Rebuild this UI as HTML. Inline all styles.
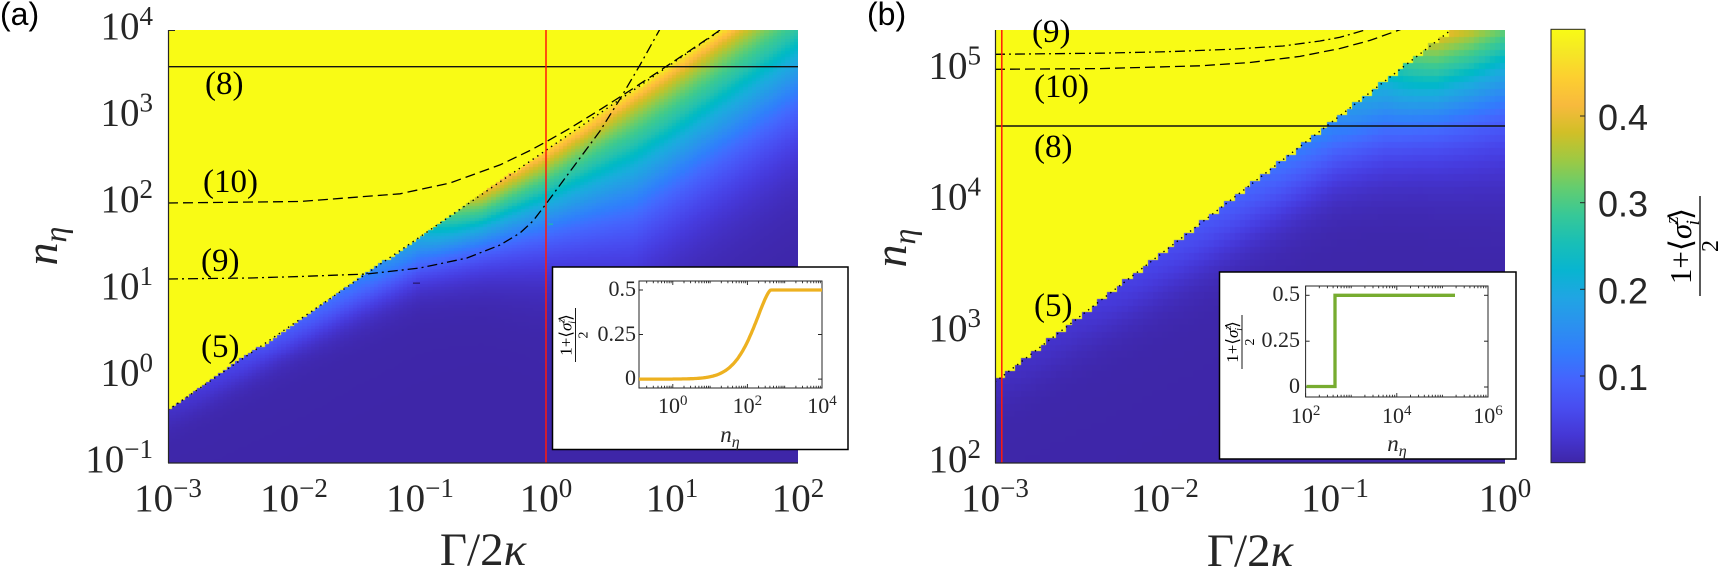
<!DOCTYPE html>
<html><head><meta charset="utf-8">
<style>
html,body{margin:0;padding:0;background:#fff;}
#wrap{position:relative;width:1725px;height:577px;overflow:hidden;background:#fff;}
svg,canvas{position:absolute;left:0;top:0;}
#ca{left:168px;top:30px;}
#cb{left:995px;top:30px;}
text{font-family:"Liberation Serif","DejaVu Serif",serif;fill:#262626;}
.sans{font-family:"Liberation Sans","DejaVu Sans",sans-serif;}
.k{fill:#000;}
</style></head><body><div id="wrap">
<svg id="bg" width="1725" height="577">
<rect x="168" y="30" width="630" height="433" fill="#f9fb15"/>
<polygon points="168,410 721,30 798,30 798,463 168,463" fill="#3e26a8"/>
<rect x="995" y="30" width="510" height="433" fill="#f9fb15"/>
<polygon points="995,382 1451,30 1505,30 1505,463 995,463" fill="#3e26a8"/>
</svg>
<canvas id="ca" width="630" height="433"></canvas>
<canvas id="cb" width="510" height="433"></canvas>
<svg id="fg" width="1725" height="577">
<defs>
<clipPath id="clA"><rect x="168" y="30" width="630" height="433"/></clipPath>
<clipPath id="clB"><rect x="995" y="30" width="510" height="433"/></clipPath>
<linearGradient id="par" x1="0" y1="1" x2="0" y2="0">
<stop offset="0" stop-color="#3e26a8"/><stop offset="0.0635" stop-color="#4537d5"/>
<stop offset="0.127" stop-color="#484df0"/><stop offset="0.1905" stop-color="#4563fd"/>
<stop offset="0.254" stop-color="#327cfc"/><stop offset="0.3175" stop-color="#2b91ef"/>
<stop offset="0.381" stop-color="#20a5e3"/><stop offset="0.4444" stop-color="#08b5d0"/>
<stop offset="0.5079" stop-color="#19bfb6"/><stop offset="0.5714" stop-color="#37c897"/>
<stop offset="0.6349" stop-color="#64cd6f"/><stop offset="0.6984" stop-color="#9dc943"/>
<stop offset="0.7619" stop-color="#d1bf27"/><stop offset="0.8254" stop-color="#f8ba3d"/>
<stop offset="0.8889" stop-color="#fccf30"/><stop offset="0.9524" stop-color="#f5e924"/>
<stop offset="1" stop-color="#f9fb15"/>
</linearGradient>
</defs>

<!-- Panel labels -->
<text class="sans" x="0" y="25" font-size="32" style="fill:#000">(a)</text>
<text class="sans" x="867" y="25" font-size="32" style="fill:#000">(b)</text>

<!-- ===== Panel (a) lines ===== -->
<g clip-path="url(#clA)" fill="none">
<line x1="168" y1="66.7" x2="798" y2="66.7" stroke="#111" stroke-width="1.4"/>
<path d="M168,410 L721,30" stroke="#000" stroke-width="1.4" stroke-dasharray="1.4 4.2"/>
<path d="M168,203 L300,201.5 L400,193.8 L450,183 L500,164.9 L530,150.5 L546,141.9 L570,128.2 L600,109.7 L630,90.5 L660,70.6 L690,50.5 L715,33.6 L722,28.5" stroke="#000" stroke-width="1.3" stroke-dasharray="10 5"/>
<path d="M168,279 L250,278 L300,276.5 L367,274 L420,268 L467,258 L500,245 L520,233 L533,221 L546,204 L560,185 L580,158 L600,131 L620,99 L640,65 L660,29 L662,25" stroke="#000" stroke-width="1.3" stroke-dasharray="10 4 2 4"/>
<line x1="546" y1="30" x2="546" y2="463" stroke="#ff1a0a" stroke-width="1.5"/>
<rect x="548" y="223.5" width="5" height="1.5" fill="#20b0b8"/>
<rect x="413" y="282.5" width="7" height="1.3" fill="#2a1a70"/>
</g>
<line x1="168.5" y1="30" x2="168.5" y2="463" stroke="#262626" stroke-width="1.2"/>
<line x1="168" y1="463" x2="798" y2="463" stroke="#262626" stroke-width="1.2"/>
<line x1="168" y1="30.5" x2="175" y2="30.5" stroke="#262626" stroke-width="1"/>

<text class="k" x="205" y="94" font-size="33">(8)</text>
<text class="k" x="203" y="192" font-size="33">(10)</text>
<text class="k" x="201" y="271" font-size="33">(9)</text>
<text class="k" x="201" y="357" font-size="33">(5)</text>

<!-- (a) y tick labels -->
<g font-size="39" text-anchor="end">
<text x="153" y="39">10<tspan font-size="27" dy="-14">4</tspan></text>
<text x="153" y="125.6">10<tspan font-size="27" dy="-14">3</tspan></text>
<text x="153" y="212.2">10<tspan font-size="27" dy="-14">2</tspan></text>
<text x="153" y="298.8">10<tspan font-size="27" dy="-14">1</tspan></text>
<text x="153" y="385.4">10<tspan font-size="27" dy="-14">0</tspan></text>
<text x="153" y="472">10<tspan font-size="27" dy="-14">−1</tspan></text>
</g>
<!-- (a) x tick labels -->
<g font-size="39" text-anchor="middle">
<text x="168" y="511">10<tspan font-size="27" dy="-14">−3</tspan></text>
<text x="294" y="511">10<tspan font-size="27" dy="-14">−2</tspan></text>
<text x="420" y="511">10<tspan font-size="27" dy="-14">−1</tspan></text>
<text x="546" y="511">10<tspan font-size="27" dy="-14">0</tspan></text>
<text x="672" y="511">10<tspan font-size="27" dy="-14">1</tspan></text>
<text x="798" y="511">10<tspan font-size="27" dy="-14">2</tspan></text>
</g>
<text x="483" y="565" font-size="47" text-anchor="middle">Γ/2<tspan font-style="italic">κ</tspan></text>
<g transform="translate(57,246) rotate(-90)"><text x="0" y="0" font-size="46" text-anchor="middle" font-style="italic">n<tspan font-size="32" dy="9">η</tspan></text></g>

<!-- (a) inset -->
<rect x="552.5" y="267" width="295.5" height="182.5" fill="#fff" stroke="#000" stroke-width="1.5"/>
<rect x="639" y="281" width="183" height="107" fill="none" stroke="#262626" stroke-width="1"/>
<g stroke="#262626" stroke-width="1">
<line x1="639" y1="379.1" x2="643" y2="379.1"/><line x1="639" y1="334.5" x2="643" y2="334.5"/><line x1="639" y1="290" x2="643" y2="290"/>
<line x1="818" y1="379.1" x2="822" y2="379.1"/><line x1="818" y1="334.5" x2="822" y2="334.5"/><line x1="818" y1="290" x2="822" y2="290"/>
</g>
<path id="tkA" fill="none" stroke="#262626" stroke-width="0.9" d=""/>
<polyline id="curA" fill="none" stroke="#edb120" stroke-width="3.3" stroke-linejoin="round" points="639,379.1 672.8,379 691.4,378.7 710,376.7 719.4,373.8 728.7,368.1 738,358 747.4,341.8 752,331.5 756.7,319.9 761.4,307.9 766,297 768.9,291.8 770.9,290 822,290"/>
<g font-size="22" text-anchor="end">
<text x="636" y="296">0.5</text>
<text x="636" y="341">0.25</text>
<text x="636" y="385">0</text>
</g>
<g font-size="22" text-anchor="middle">
<text x="672.8" y="413">10<tspan font-size="15" dy="-8">0</tspan></text>
<text x="747.4" y="413">10<tspan font-size="15" dy="-8">2</tspan></text>
<text x="822" y="413">10<tspan font-size="15" dy="-8">4</tspan></text>
</g>
<text x="730" y="442" font-size="23" text-anchor="middle" font-style="italic">n<tspan font-size="16" dy="5">η</tspan></text>
<g transform="translate(575.5,335) rotate(-90)">
<line x1="-27" y1="0" x2="27" y2="0" stroke="#000" stroke-width="0.9"/>
<text x="0" y="-4" font-size="17" text-anchor="middle" style="fill:#000">1+⟨<tspan font-style="italic">σ</tspan><tspan font-size="10" dy="-7" font-style="italic">z</tspan><tspan font-size="10" dx="-5" dy="11" font-style="italic">i</tspan><tspan dy="-4">⟩</tspan></text>
<text x="0" y="12" font-size="14" text-anchor="middle" style="fill:#000">2</text>
</g>

<!-- ===== Panel (b) lines ===== -->
<g clip-path="url(#clB)" fill="none">
<line x1="995" y1="126" x2="1505" y2="126" stroke="#111" stroke-width="1.4"/>
<path d="M995,382 L1451,30" stroke="#000" stroke-width="1.4" stroke-dasharray="1.4 4.2"/>
<path d="M995,69.3 L1100,68.6 L1200,65.8 L1250,62.5 L1300,56.4 L1340,48.5 L1370,40.4 L1402,29" stroke="#000" stroke-width="1.3" stroke-dasharray="10 5"/>
<path d="M995,54.3 L1100,53.2 L1168,51.7 L1230,49.3 L1283,46 L1320,41 L1340,37.3 L1372,28" stroke="#000" stroke-width="1.3" stroke-dasharray="10 4 2 4"/>
<line x1="1001.8" y1="30" x2="1001.8" y2="463" stroke="#ff1a0a" stroke-width="1.5"/>
</g>
<line x1="995.5" y1="30" x2="995.5" y2="463" stroke="#262626" stroke-width="1.2"/>
<line x1="995" y1="463" x2="1505" y2="463" stroke="#262626" stroke-width="1.2"/>

<text class="k" x="1032" y="42" font-size="33">(9)</text>
<text class="k" x="1034" y="97" font-size="33">(10)</text>
<text class="k" x="1034" y="157" font-size="33">(8)</text>
<text class="k" x="1034" y="316" font-size="33">(5)</text>

<g font-size="39" text-anchor="end">
<text x="981" y="78.5">10<tspan font-size="27" dy="-14">5</tspan></text>
<text x="981" y="209.6">10<tspan font-size="27" dy="-14">4</tspan></text>
<text x="981" y="340.8">10<tspan font-size="27" dy="-14">3</tspan></text>
<text x="981" y="472">10<tspan font-size="27" dy="-14">2</tspan></text>
</g>
<g font-size="39" text-anchor="middle">
<text x="995" y="511">10<tspan font-size="27" dy="-14">−3</tspan></text>
<text x="1165" y="511">10<tspan font-size="27" dy="-14">−2</tspan></text>
<text x="1335" y="511">10<tspan font-size="27" dy="-14">−1</tspan></text>
<text x="1505" y="511">10<tspan font-size="27" dy="-14">0</tspan></text>
</g>
<text x="1250" y="566" font-size="47" text-anchor="middle">Γ/2<tspan font-style="italic">κ</tspan></text>
<g transform="translate(906,248) rotate(-90)"><text x="0" y="0" font-size="46" text-anchor="middle" font-style="italic">n<tspan font-size="32" dy="9">η</tspan></text></g>

<!-- (b) inset -->
<rect x="1219.5" y="272" width="296.5" height="187" fill="#fff" stroke="#000" stroke-width="1.5"/>
<rect x="1305.6" y="286" width="182.4" height="111" fill="none" stroke="#262626" stroke-width="1"/>
<g stroke="#262626" stroke-width="1">
<line x1="1305.6" y1="387" x2="1309.6" y2="387"/><line x1="1305.6" y1="341.2" x2="1309.6" y2="341.2"/><line x1="1305.6" y1="295.3" x2="1309.6" y2="295.3"/>
<line x1="1484" y1="387" x2="1488" y2="387"/><line x1="1484" y1="341.2" x2="1488" y2="341.2"/><line x1="1484" y1="295.3" x2="1488" y2="295.3"/>
</g>
<path id="tkB" fill="none" stroke="#262626" stroke-width="0.9" d=""/>
<polyline fill="none" stroke="#77ac30" stroke-width="3.3" stroke-linejoin="miter" points="1306.5,386.5 1335,386.5 1335,295.3 1455,295.3"/>
<g font-size="22" text-anchor="end">
<text x="1300" y="301">0.5</text>
<text x="1300" y="347">0.25</text>
<text x="1300" y="393">0</text>
</g>
<g font-size="22" text-anchor="middle">
<text x="1305.6" y="423">10<tspan font-size="15" dy="-8">2</tspan></text>
<text x="1396.8" y="423">10<tspan font-size="15" dy="-8">4</tspan></text>
<text x="1488" y="423">10<tspan font-size="15" dy="-8">6</tspan></text>
</g>
<text x="1397" y="451" font-size="23" text-anchor="middle" font-style="italic">n<tspan font-size="16" dy="5">η</tspan></text>
<g transform="translate(1242,342) rotate(-90)">
<line x1="-27" y1="0" x2="27" y2="0" stroke="#000" stroke-width="0.9"/>
<text x="0" y="-4" font-size="17" text-anchor="middle" style="fill:#000">1+⟨<tspan font-style="italic">σ</tspan><tspan font-size="10" dy="-7" font-style="italic">z</tspan><tspan font-size="10" dx="-5" dy="11" font-style="italic">i</tspan><tspan dy="-4">⟩</tspan></text>
<text x="0" y="12" font-size="14" text-anchor="middle" style="fill:#000">2</text>
</g>

<!-- ===== Colorbar ===== -->
<rect x="1551" y="29.3" width="34" height="433.4" fill="url(#par)" stroke="#262626" stroke-width="1"/>
<g stroke="#262626" stroke-width="1">
<line x1="1580" y1="116" x2="1585" y2="116"/>
<line x1="1580" y1="202.7" x2="1585" y2="202.7"/>
<line x1="1580" y1="289.3" x2="1585" y2="289.3"/>
<line x1="1580" y1="376" x2="1585" y2="376"/>
</g>
<g class="sans" font-size="36">
<text class="sans" x="1598" y="130">0.4</text>
<text class="sans" x="1598" y="216.7">0.3</text>
<text class="sans" x="1598" y="303.3">0.2</text>
<text class="sans" x="1598" y="390">0.1</text>
</g>
<g transform="translate(1700,246) rotate(-90)">
<line x1="-50" y1="0" x2="50" y2="0" stroke="#000" stroke-width="1.3"/>
<text x="0" y="-9" font-size="31" text-anchor="middle" style="fill:#000">1+⟨<tspan font-style="italic">σ</tspan><tspan font-size="19" dy="-13" font-style="italic">z</tspan><tspan font-size="19" dx="-9" dy="21" font-style="italic">i</tspan><tspan dy="-8">⟩</tspan></text>
<text x="0" y="18" font-size="24" text-anchor="middle" style="fill:#000">2</text>
</g>
</svg>
</div>
<script>
(function(){
var P=[[0.2422,0.1504,0.6603],[0.2504,0.1650,0.7076],[0.2578,0.1818,0.7511],[0.2647,0.1978,0.7952],[0.2706,0.2147,0.8364],[0.2751,0.2342,0.8710],[0.2783,0.2559,0.8991],[0.2803,0.2782,0.9221],[0.2813,0.3006,0.9414],[0.2810,0.3228,0.9579],[0.2795,0.3447,0.9717],[0.2760,0.3667,0.9829],[0.2699,0.3892,0.9906],[0.2602,0.4123,0.9952],[0.2440,0.4358,0.9988],[0.2206,0.4603,0.9973],[0.1963,0.4847,0.9892],[0.1834,0.5074,0.9798],[0.1786,0.5289,0.9682],[0.1764,0.5499,0.9520],[0.1687,0.5703,0.9359],[0.1540,0.5902,0.9218],[0.1460,0.6091,0.9079],[0.1380,0.6276,0.8973],[0.1248,0.6459,0.8883],[0.1113,0.6635,0.8763],[0.0952,0.6798,0.8598],[0.0689,0.6948,0.8394],[0.0297,0.7082,0.8163],[0.0036,0.7203,0.7917],[0.0067,0.7312,0.7660],[0.0433,0.7411,0.7394],[0.0964,0.7500,0.7120],[0.1408,0.7584,0.6842],[0.1717,0.7670,0.6554],[0.1938,0.7758,0.6251],[0.2161,0.7843,0.5923],[0.2470,0.7918,0.5567],[0.2906,0.7973,0.5188],[0.3406,0.8008,0.4789],[0.3909,0.8029,0.4354],[0.4456,0.8024,0.3909],[0.5044,0.7993,0.3480],[0.5616,0.7942,0.3045],[0.6174,0.7876,0.2612],[0.6720,0.7793,0.2227],[0.7242,0.7698,0.1910],[0.7738,0.7598,0.1646],[0.8203,0.7498,0.1535],[0.8634,0.7406,0.1596],[0.9035,0.7330,0.1774],[0.9393,0.7288,0.2100],[0.9728,0.7298,0.2394],[0.9956,0.7434,0.2371],[0.9970,0.7659,0.2199],[0.9952,0.7893,0.2028],[0.9892,0.8136,0.1885],[0.9786,0.8386,0.1766],[0.9676,0.8639,0.1643],[0.9610,0.8890,0.1537],[0.9597,0.9135,0.1423],[0.9628,0.9373,0.1265],[0.9691,0.9606,0.1064],[0.9769,0.9839,0.0805]];
function col(v){var t=Math.max(0,Math.min(1,v/0.5))*63;var i=Math.floor(t);if(i>62)i=62;var f=t-i,a=P[i],b=P[i+1];
return 'rgb('+Math.round((a[0]+(b[0]-a[0])*f)*255)+','+Math.round((a[1]+(b[1]-a[1])*f)*255)+','+Math.round((a[2]+(b[2]-a[2])*f)*255)+')';}
function ip(p,x){if(x<=p[0][0])return p[0][1];for(var k=1;k<p.length;k++){if(x<=p[k][0]){var x0=p[k-1][0],y0=p[k-1][1],x1=p[k][0],y1=p[k][1];return y0+(y1-y0)*(x-x0)/(x1-x0);}}return p[p.length-1][1];}
var W1=0.35,S1=0.25;
function val(A,s2,d){if(d<=0)return 0.5;return A*(W1*Math.exp(-d/S1)+(1-W1)*Math.exp(-(d/s2)*(d/s2)));}
function draw(id,W,H,NC,NR,L0,L1,N0,N1,c0,Ap,sp){
var cv=document.getElementById(id);if(!cv||!cv.getContext)return;var ctx=cv.getContext('2d');
var cw=W/NC,rh=H/NR;
for(var i=0;i<NC;i++){var L=L0+(i+0.5)/NC*(L1-L0);var A=ip(Ap,L),s=ip(sp,L);
var x0=Math.round(i*cw),x1=Math.round((i+1)*cw);
for(var j=0;j<NR;j++){var ln=N1-(j+0.5)/NR*(N1-N0);var d=c0+L-ln;var v=val(A,s,d);
var y0=Math.round(j*rh),y1=Math.round((j+1)*rh);
ctx.fillStyle=col(v);ctx.fillRect(x0,y0,x1-x0,y1-y0);}}}
draw('ca',630,433,150,145,-3,2,-1,4,2.612,
[[-3,0.02],[-2.5,0.05],[-2,0.09],[-1.5,0.13],[-1,0.2],[-0.75,0.3],[-0.5,0.4],[0,0.46],[1,0.48],[2,0.48]],
[[-3,0.22],[-2,0.3],[-1,0.45],[-0.5,0.65],[0,0.95],[0.7,1.4],[2,1.4]]);
draw('cb',510,433,100,66,-3,0,2,5.301,5.618,
[[-3,0.015],[-2.5,0.03],[-2,0.06],[-1.5,0.1],[-1,0.15],[-0.7,0.22],[-0.4,0.38],[-0.2,0.44],[0,0.47]],
[[-3,0.22],[-1,0.45],[-0.5,0.65],[0,0.9]]);
function ticks(id,xl,xr,lmin,lmax,yt,yb,majEven){
var d='';var pd=(xr-xl)/(lmax-lmin);
for(var k=Math.floor(lmin);k<=Math.ceil(lmax);k++){for(var m=1;m<10;m++){var l=k+Math.log10(m);if(l<lmin-1e-6||l>lmax+1e-6)continue;
var x=xl+(l-lmin)*pd;var len=(m==1&&((k%2+2)%2==majEven))?4:2.2;
d+='M'+x.toFixed(1)+','+yt+'v'+len+'M'+x.toFixed(1)+','+yb+'v'+(-len);}}
document.getElementById(id).setAttribute('d',d);}
ticks('tkA',639,822,-0.906,4,281,388,0);
ticks('tkB',1305.6,1488,2,6,286,397,0);
var pts=[];for(var k=0;k<=160;k++){var x=639+k*183/160;var ln=4-(822-x)/37.3;var d=2.63-ln;var v=d<=0?0.5:0.5*Math.exp(-Math.pow(d/0.69,1.5));pts.push(x.toFixed(1)+','+(379.1-v*178.3).toFixed(1));}
document.getElementById('curA').setAttribute('points',pts.join(' '));
})();
</script>
</body></html>
